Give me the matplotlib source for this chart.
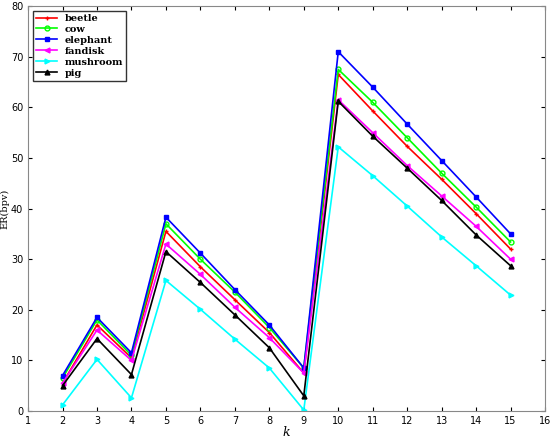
import matplotlib
matplotlib.use('Agg')
import matplotlib.pyplot as plt

k = list(range(2, 16))
beetle   = [5.5, 17.0, 10.5, 35.5, 28.5, 22.0, 15.5, 7.5, 66.5, 59.3, 52.3, 45.8, 39.0, 32.0]
cow      = [6.5, 18.0, 11.0, 37.0, 30.0, 23.5, 16.5, 8.5, 67.5, 61.0, 54.0, 47.0, 40.3, 33.4]
elephant = [7.0, 18.5, 11.5, 38.3, 31.2, 24.0, 17.0, 8.5, 71.0, 64.0, 56.7, 49.5, 42.3, 35.0]
fandisk  = [5.5, 16.0, 10.0, 33.0, 27.0, 20.5, 14.5, 7.5, 61.5, 55.0, 48.5, 42.5, 36.5, 30.0]
mushroom = [1.2, 10.2, 2.6, 25.8, 20.1, 14.2, 8.5, 0.2, 52.2, 46.5, 40.5, 34.4, 28.7, 22.9]
pig      = [5.0, 14.3, 7.2, 31.5, 25.4, 19.0, 12.5, 3.0, 61.2, 54.3, 48.0, 41.6, 34.8, 28.7]

series = [('beetle', beetle, 'red', '+', 'full'),
          ('cow', cow, '#00ff00', 'o', 'none'),
          ('elephant', elephant, 'blue', 's', 'full'),
          ('fandisk', fandisk, 'magenta', '<', 'full'),
          ('mushroom', mushroom, 'cyan', '>', 'full'),
          ('pig', pig, 'black', '^', 'full')]

fig = plt.figure(figsize=(5.5, 4.41), dpi=100)
ax = fig.add_axes([0.051, 0.068, 0.94, 0.918])
for name, v, c, m, fs in series:
    ax.plot(k, v, color=c, marker=m, markersize=3.5, linewidth=1.2, label=name, fillstyle=fs)
ax.set_xlim(1, 16)
ax.set_ylim(0, 80)
ax.set_xticks(range(1, 17))
ax.set_yticks(range(0, 81, 10))
ax.tick_params(direction='in', labelsize=7, top=True, right=True, length=3)
ax.set_xlabel('k', fontsize=9, style='italic', family='serif', labelpad=0)
ax.set_ylabel('ER(bpv)', fontsize=7, family='serif', labelpad=1)
for s in ax.spines.values():
    s.set_color('#888888')
leg = ax.legend(loc='upper left', fontsize=7, prop={'family': 'serif', 'weight': 'bold', 'size': 7},
                fancybox=False, edgecolor='black', borderpad=0.3, labelspacing=0.2, handlelength=2.2)
fig.savefig('out.png', dpi=100)
